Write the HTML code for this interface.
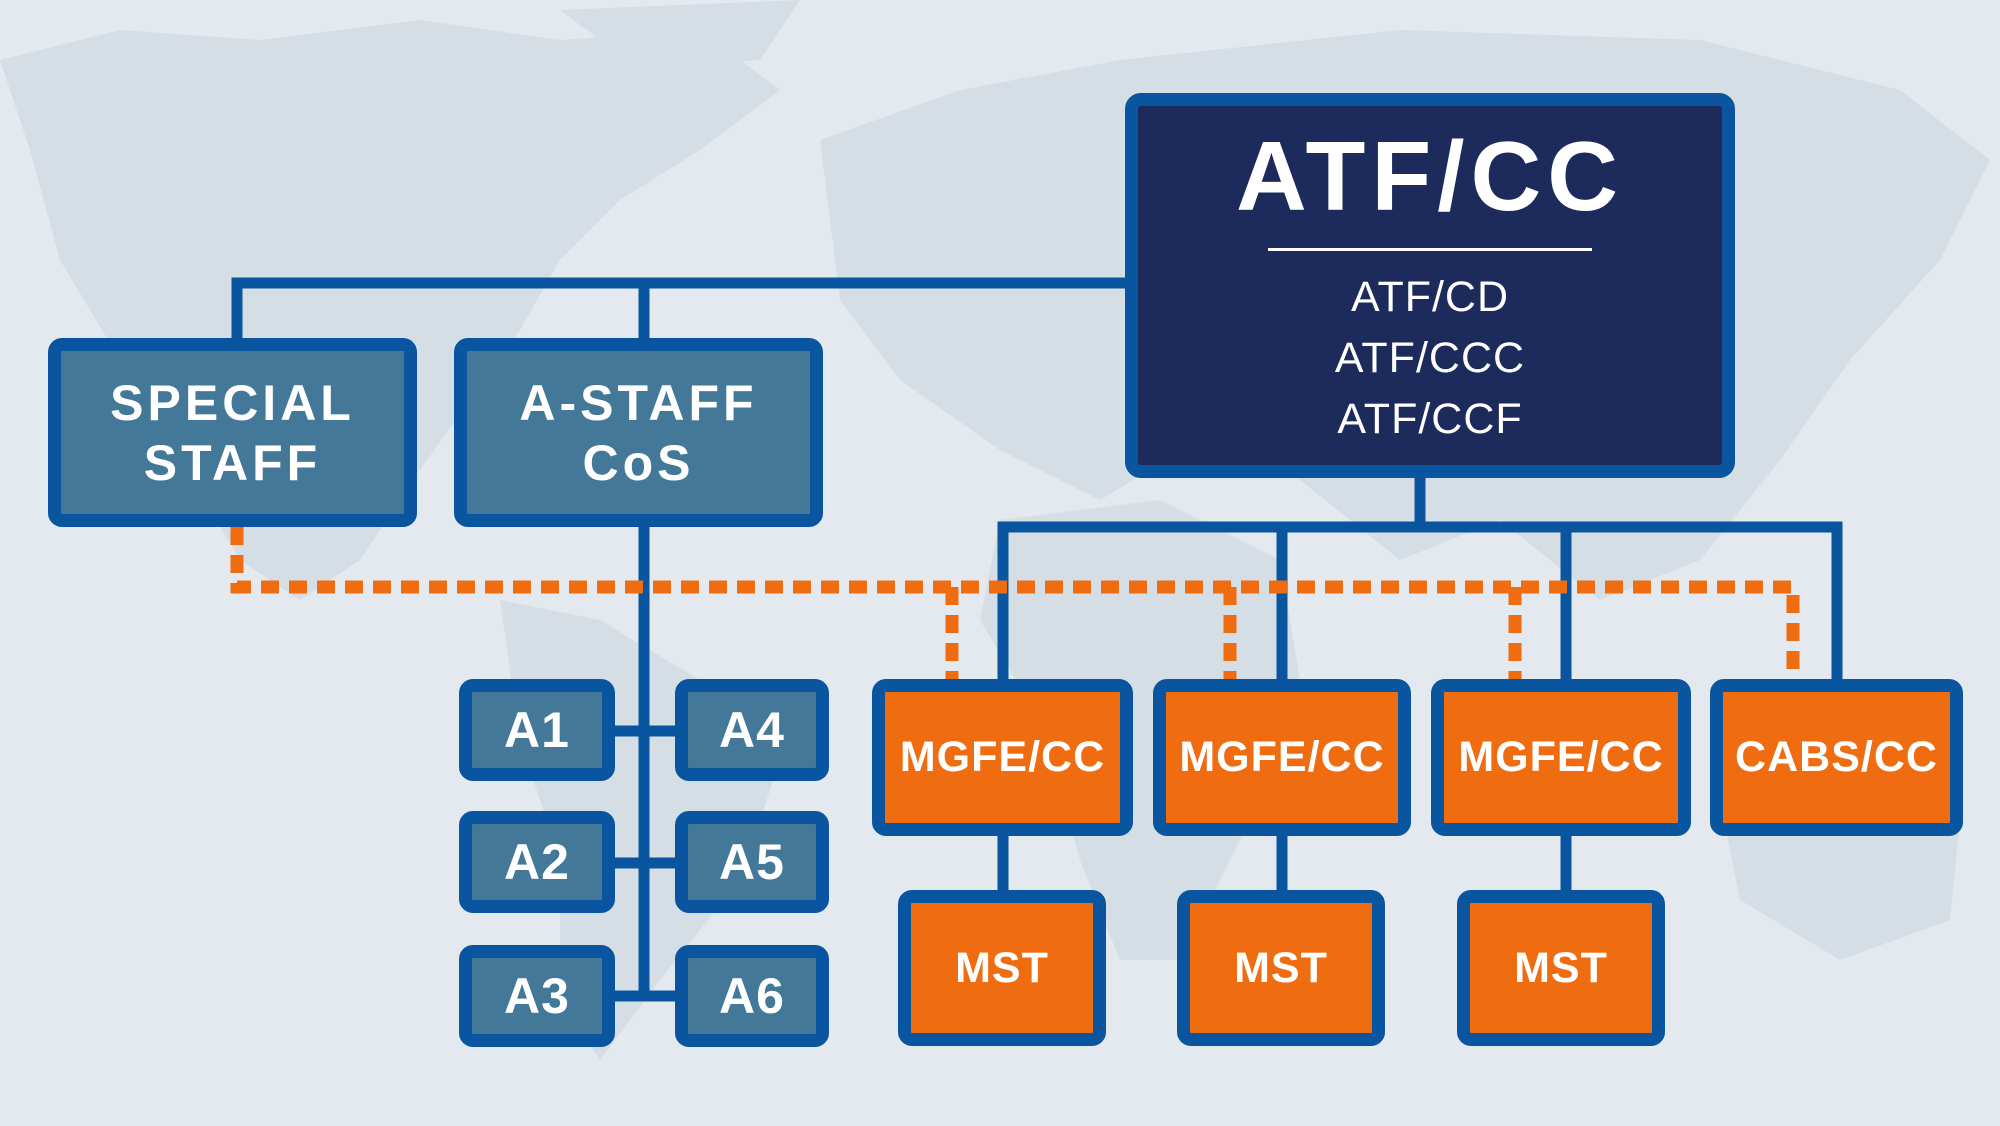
<!DOCTYPE html>
<html><head><meta charset="utf-8"><style>
html,body{margin:0;padding:0}
body{width:2000px;height:1126px;position:relative;overflow:hidden;background:#e3e9ee;font-family:"Liberation Sans",sans-serif;}
svg{position:absolute;left:0;top:0}
.b{position:absolute;box-sizing:border-box;border:13px solid #0a55a0;border-radius:14px;color:#fff;font-weight:bold;display:flex;align-items:center;justify-content:center;text-align:center}
.s{background:#437898;font-size:50px;letter-spacing:4px;line-height:60px}
.a{background:#437898;font-size:50px;letter-spacing:1px}
.o{background:#ef6c11;font-size:43px;letter-spacing:1px}
</style></head><body>
<svg width="2000" height="1126">
<g fill="#d6dee5">
<path d="M0 60 L120 30 L260 40 L420 20 L560 40 L700 30 L780 90 L700 150 L620 200 L560 260 L520 330 L470 400 L420 470 L360 560 L300 600 L240 560 L180 460 L120 360 L60 260 L30 150 Z"/>
<path d="M560 10 L800 0 L760 60 L640 70 Z"/>
<path d="M500 600 L600 620 L700 680 L780 760 L740 880 L660 980 L600 1060 L560 1000 L560 860 L520 740 Z"/>
<path d="M820 140 L960 90 L1120 60 L1400 30 L1700 40 L1900 90 L1990 160 L1940 260 L1850 360 L1780 460 L1700 560 L1600 600 L1500 520 L1400 560 L1300 480 L1200 440 L1100 500 L1000 450 L900 380 L840 300 Z"/>
<path d="M1000 520 L1160 500 L1280 560 L1300 680 L1250 820 L1180 960 L1120 960 L1080 860 L1040 720 L980 620 Z"/>
<path d="M1720 800 L1860 760 L1960 820 L1950 920 L1840 960 L1740 900 Z"/>
</g>
<g stroke="#0a55a0" stroke-width="11" fill="none">
<path d="M237 340 V283 H1130 M644 283 V340"/>
<path d="M644 525 V997 M612 731 H678 M612 863 H678 M612 996 H678"/>
<path d="M1420 475 V527 M1003 682 V527 H1837 V682 M1282 527 V682 M1566 527 V682"/>
<path d="M1003 834 V892 M1282 834 V892 M1566 834 V892"/>
</g>
<g stroke="#ef6c11" stroke-width="13" fill="none" stroke-dasharray="18 10">
<path d="M237 527 V587 H1793 V679"/>
<path d="M952 587 V679 M1230 587 V679 M1515 587 V679"/>
</g>
</svg>
<div class="b" style="left:1125px;top:93px;width:610px;height:385px;background:#1d2b5c;flex-direction:column;justify-content:flex-start;border-radius:16px">
<div style="font-size:98px;letter-spacing:6px;margin-top:20px;line-height:100px">ATF/CC</div>
<div style="width:324px;height:3px;background:#fff;margin-top:22px"></div>
<div style="font-weight:normal;font-size:43px;line-height:61px;margin-top:16px;letter-spacing:1px">ATF/CD<br>ATF/CCC<br>ATF/CCF</div>
</div>
<div class="b s" style="left:48px;top:338px;width:369px;height:189px">SPECIAL<br>STAFF</div>
<div class="b s" style="left:454px;top:338px;width:369px;height:189px">A-STAFF<br>CoS</div>
<div class="b a" style="left:459px;top:679px;width:156px;height:102px">A1</div>
<div class="b a" style="left:675px;top:679px;width:154px;height:102px">A4</div>
<div class="b a" style="left:459px;top:811px;width:156px;height:102px">A2</div>
<div class="b a" style="left:675px;top:811px;width:154px;height:102px">A5</div>
<div class="b a" style="left:459px;top:945px;width:156px;height:102px">A3</div>
<div class="b a" style="left:675px;top:945px;width:154px;height:102px">A6</div>
<div class="b o" style="left:872px;top:679px;width:261px;height:157px">MGFE/CC</div>
<div class="b o" style="left:1153px;top:679px;width:258px;height:157px">MGFE/CC</div>
<div class="b o" style="left:1431px;top:679px;width:260px;height:157px">MGFE/CC</div>
<div class="b o" style="left:1710px;top:679px;width:253px;height:157px">CABS/CC</div>
<div class="b o" style="left:898px;top:890px;width:208px;height:156px">MST</div>
<div class="b o" style="left:1177px;top:890px;width:208px;height:156px">MST</div>
<div class="b o" style="left:1457px;top:890px;width:208px;height:156px">MST</div>
</body></html>
